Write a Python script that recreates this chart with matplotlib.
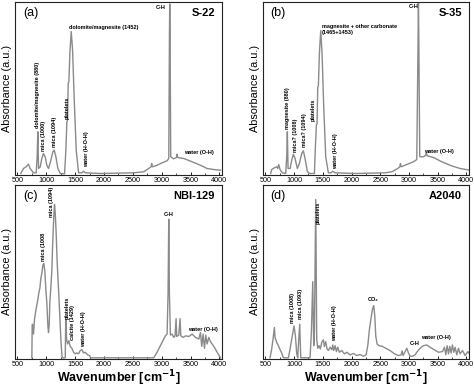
import matplotlib
matplotlib.use("Agg")
import matplotlib.pyplot as plt
from matplotlib.ticker import MultipleLocator

plt.rcParams['font.family'] = ['Liberation Sans', 'DejaVu Sans']

# ---- spectra (wavenumber, absorbance a.u.) ----
wn_a = [558, 604, 650, 691, 720, 778, 824, 841, 853, 865, 894, 922, 951, 980, 1009, 1038,
        1079, 1113, 1137, 1166, 1200, 1241, 1316, 1339, 1356, 1368, 1379, 1391, 1408, 1432,
        1455, 1484, 1518, 1559, 1617, 1646, 1675, 1935, 2514, 2688, 2774, 2815, 2826, 2838,
        2919, 3006, 3093, 3122, 3134, 3139, 3145, 3156, 3208, 3255, 3266, 3278, 3382, 3527,
        3671, 3787, 3903, 4018]
ab_a = [0.4, 3.3, 4.3, 5.8, 3.3, 0.8, 0.8, 10, 24.6, 3.3, 4.3, 9.1, 12.0, 10.1, 5.2, 3.3,
        8.1, 13.0, 14.0, 10.1, 3.3, 0.4, 0.2, 14, 30.4, 31.4, 52.7, 53.7, 70.2, 82.8,
        72.1, 43, 14, 0.8, 0.8, 1.7, 0.8, 0.4, 0.8, 1.4, 3.3, 4.3, 6.2, 4.3,
        5.2, 6.6, 7.8, 9.1, 81.8, 98.8, 81.8, 10.1, 8.9, 9.7, 11.6, 9.7, 9.1, 7.2,
        5.2, 3.3, 2.7, 2.3]

wn_b = [593, 610, 657, 697, 715, 732, 756, 796, 854, 872, 883, 895, 930, 959, 988, 1017,
        1057, 1092, 1133, 1162, 1191, 1232, 1278, 1354, 1371, 1388, 1400, 1412, 1423, 1441,
        1464, 1487, 1516, 1551, 1597, 1644, 1673, 1714, 2062, 2585, 2701, 2805, 2840, 2852,
        2864, 2962, 3078, 3136, 3160, 3165, 3171, 3188, 3252, 3292, 3304, 3316, 3427, 3572,
        3746, 3891, 4065]
ab_b = [0.4, 2.7, 3.7, 4.3, 3.3, 5.6, 2.7, 0.8, 0.4, 10, 24.6, 3.3, 3.3, 8.1, 11.6, 9.1,
        3.3, 6.2, 12, 13.6, 9.1, 1.4, 0.4, 0.4, 15.9, 28.5, 29.5, 50.4, 51.2, 70.2,
        83.3, 70.2, 39.1, 10.1, 0.8, 0.8, 1.7, 0.8, 0.4, 0.8, 1.4, 3.3, 4.3, 6.2,
        4.3, 5.6, 7.2, 8.5, 81.8, 99.5, 81.8, 10.1, 10.1, 11, 12.4, 10.7, 9.7, 7.2,
        4.8, 3.3, 2.3]

wn_c = [749, 755, 760, 778, 795, 812, 836, 853, 870, 888, 905, 922, 940, 957, 975, 992,
        1009, 1027, 1038, 1050, 1061, 1079, 1096, 1108, 1119, 1131, 1142, 1154, 1171, 1189,
        1206, 1223, 1241, 1258, 1275, 1328, 1333, 1339, 1351, 1368, 1391, 1414, 1443, 1472,
        1501, 1530, 1559, 1588, 1617, 1646, 1675, 1715, 1750, 1767, 2861, 2919, 2977, 3035,
        3064, 3093, 3110, 3122, 3133, 3151, 3180, 3208, 3231, 3249, 3260, 3295, 3318, 3330,
        3370, 3416, 3469, 3527, 3585, 3643, 3671, 3694, 3717, 3741, 3764, 3787, 3816, 3845,
        3903, 3961, 4018]
ab_c = [0, 18.4, 19.4, 13.7, 22.2, 26, 30.7, 33.6, 37.4, 40.2, 45.9, 48.8, 53.5, 54.5, 49.7, 39.3,
        31.7, 18.4, 14.6, 19.4, 31.7, 41.2, 50.7, 63.9, 73.4, 82.9, 88.6, 83.9, 71.5, 54.5,
        43.1, 31.7, 18.4, 7, 0, 0, 14.6, 22.2, 10.8, 8, 9.9, 6.6, 5.5, 3.2,
        2.3, 2.8, 2.3, 4.2, 4.7, 2.8, 3.2, 1.7, 1.3, 0, 0, 3.2, 7, 10.8,
        12.7, 13.7, 37.4, 80.1, 37.4, 13.1, 13.7, 11.8, 12.7, 22.6, 12.3, 13.1, 22.6, 12.7,
        11.8, 12.7, 12.3, 13.7, 11.8, 10.8, 14.6, 6.6, 13.7, 5.5, 13.1, 8, 11.8, 9.3,
        6.6, 3.2, 0]

wn_d = [581, 610, 634, 657, 668, 697, 726, 756, 785, 814, 901, 930, 959, 999, 1023, 1046,
        1063, 1081, 1098, 1116, 1278, 1301, 1325, 1342, 1354, 1377, 1394, 1412, 1435, 1458,
        1481, 1510, 1528, 1551, 1574, 1597, 1627, 1656, 1673, 1690, 1714, 1737, 1760, 1789,
        1830, 1876, 1923, 1975, 2033, 2091, 2149, 2207, 2254, 2283, 2312, 2341, 2364, 2387,
        2405, 2422, 2445, 2480, 2538, 2596, 2672, 2747, 2817, 2863, 2881, 2898, 2933, 2962,
        2991, 3020, 3061, 3107, 3136, 3165, 3206, 3252, 3310, 3368, 3443, 3514, 3584, 3618,
        3641, 3665, 3688, 3711, 3734, 3757, 3781, 3804, 3833, 3862, 3891, 3932, 3978, 4025,
        4065]
ab_d = [0, 5.1, 10.8, 17.5, 11.8, 8.9, 7, 4.7, 2.8, 0, 0, 5.1, 10.8, 18.4, 12.7, 2.3,
        0, 10.8, 19.4, 0, 0, 14.6, 44, 7, 14.6, 91.5, 10.8, 5.5, 7, 5.1,
        8.9, 10.4, 6.6, 9.3, 5.1, 4.2, 6.1, 4.7, 7.4, 4.2, 7, 3.6, 6.1, 3.2,
        4.2, 2.3, 3.2, 1.7, 2.5, 1.3, 1.9, 0.9, 1.7, 7, 16.5, 23.1, 27.9, 30.2,
        24.1, 12.7, 8, 7, 6.6, 5.5, 4.2, 2.3, 1.3, 1.7, 4, 1.3, 3.6, 5.5,
        2.8, 0.9, 0.9, 1.7, 3.2, 4.4, 5.9, 7, 7.4, 6.1, 4.6, 3.2, 3.6, 6.1,
        1.7, 7, 2.3, 6.6, 2.8, 7.4, 3.2, 6.1, 1.7, 5.5, 2.3, 4.2, 1.3, 3.6,
        1.7]

panel_tags = ["(a)", "(b)", "(c)", "(d)"]
sample_names = ["S-22", "S-35", "NBI-129", "A2040"]
xticks = [500, 1000, 1500, 2000, 2500, 3000, 3500, 4000]

# annotations: (text, x, y, rotation, ha, va)
notes_a = [("dolomite/magnesite (880)", 850, 27, 90, "center", "bottom"),
           ("mica (1000)", 955, 13.5, 90, "center", "bottom"),
           ("mica (1094)", 1137, 16, 90, "center", "bottom"),
           ("platelets", 1362, 32, 90, "center", "bottom"),
           ("water (H-O-H)", 1690, 4, 90, "center", "bottom"),
           ("dolomite/magnesite (1452)", 1990, 85, 0, "center", "center"),
           ("C-H", 2980, 96.5, 0, "center", "center"),
           ("water (O-H)", 3640, 12.5, 0, "center", "center")]
notes_b = [("magnesite (880)", 885, 26, 90, "center", "bottom"),
           ("mica? (1008)", 1017, 13, 90, "center", "bottom"),
           ("mica? (1094)", 1179, 15.5, 90, "center", "bottom"),
           ("platelets", 1336, 31, 90, "center", "bottom"),
           ("water (H-O-H)", 1714, 3, 90, "center", "bottom"),
           ("magnesite + other carbonate\n(1465+1453)", 1481, 84, 0, "left", "center"),
           ("C-H", 3090, 97.3, 0, "center", "center"),
           ("water (O-H)", 3514, 13, 0, "center", "center")]
notes_c = [("mica (1008", 951, 56, 90, "center", "bottom"),
           ("mica (1094)", 1096, 99, 90, "center", "top"),
           ("platelets", 1356, 22.5, 90, "center", "bottom"),
           ("calcite (1429)", 1449, 10.5, 90, "center", "bottom"),
           ("water (H-O-H)", 1646, 6.5, 90, "center", "bottom"),
           ("C-H", 3122, 83, 0, "center", "center"),
           ("water (O-H)", 3706, 16.5, 0, "center", "center")]
notes_d = [("mica (1008)", 970, 20, 90, "center", "bottom"),
           ("mica (1093)", 1104, 22.5, 90, "center", "bottom"),
           ("platelets", 1423, 90.5, 90, "center", "top"),
           ("water (H-O-H)", 1702, 9.5, 90, "center", "bottom"),
           ("CO₂", 2381, 33.5, 0, "center", "center"),
           ("C-H", 3096, 8.5, 0, "center", "center"),
           ("water (O-H)", 3467, 12, 0, "center", "center")]

spectra = [(wn_a, ab_a, notes_a), (wn_b, ab_b, notes_b),
           (wn_c, ab_c, notes_c), (wn_d, ab_d, notes_d)]

# axes boxes in figure fractions [left, bottom, width, height]
boxes = [[0.032, 0.550, 0.437, 0.445],
         [0.555, 0.550, 0.435, 0.445],
         [0.032, 0.078, 0.437, 0.447],
         [0.555, 0.078, 0.435, 0.447]]

fig = plt.figure(figsize=(4.74, 3.89), dpi=100)

for i, (wn, ab, notes) in enumerate(spectra):
    ax = fig.add_axes(boxes[i])
    ax.plot(wn, ab, color='#8a8a8a', linewidth=1.0)
    ax.set_xlim(460, 4050)
    ax.set_ylim(-0.5, 100)
    ax.set_yticks([])
    ax.set_xticks(xticks)
    ax.xaxis.set_minor_locator(MultipleLocator(250))
    ax.tick_params(axis='x', which='major', direction='in', length=2.5, width=0.6,
                   labelsize=5.2, pad=1.5)
    ax.tick_params(axis='x', which='minor', direction='in', length=1.5, width=0.5)
    for sp in ax.spines.values():
        sp.set_linewidth(0.8)
        sp.set_color('#222222')
    ax.set_ylabel("Absorbance (a.u.)", fontsize=7.8, labelpad=2)
    if i >= 2:
        ax.set_xlabel("Wavenumber [cm$^{\\mathbf{-1}}$]", fontsize=9,
                      fontweight='bold', labelpad=0.5)
    ax.text(0.037, 0.935, panel_tags[i], transform=ax.transAxes, fontsize=9,
            ha='left', va='center')
    ax.text(0.965, 0.935, sample_names[i], transform=ax.transAxes, fontsize=8,
            fontweight='bold', ha='right', va='center')
    for txt, x, y, rot, ha, va in notes:
        ax.text(x, y, txt, rotation=rot, ha=ha, va=va, fontsize=4.0,
                fontweight='bold', clip_on=True, linespacing=1.1)

fig.savefig("out.png", dpi=100)
